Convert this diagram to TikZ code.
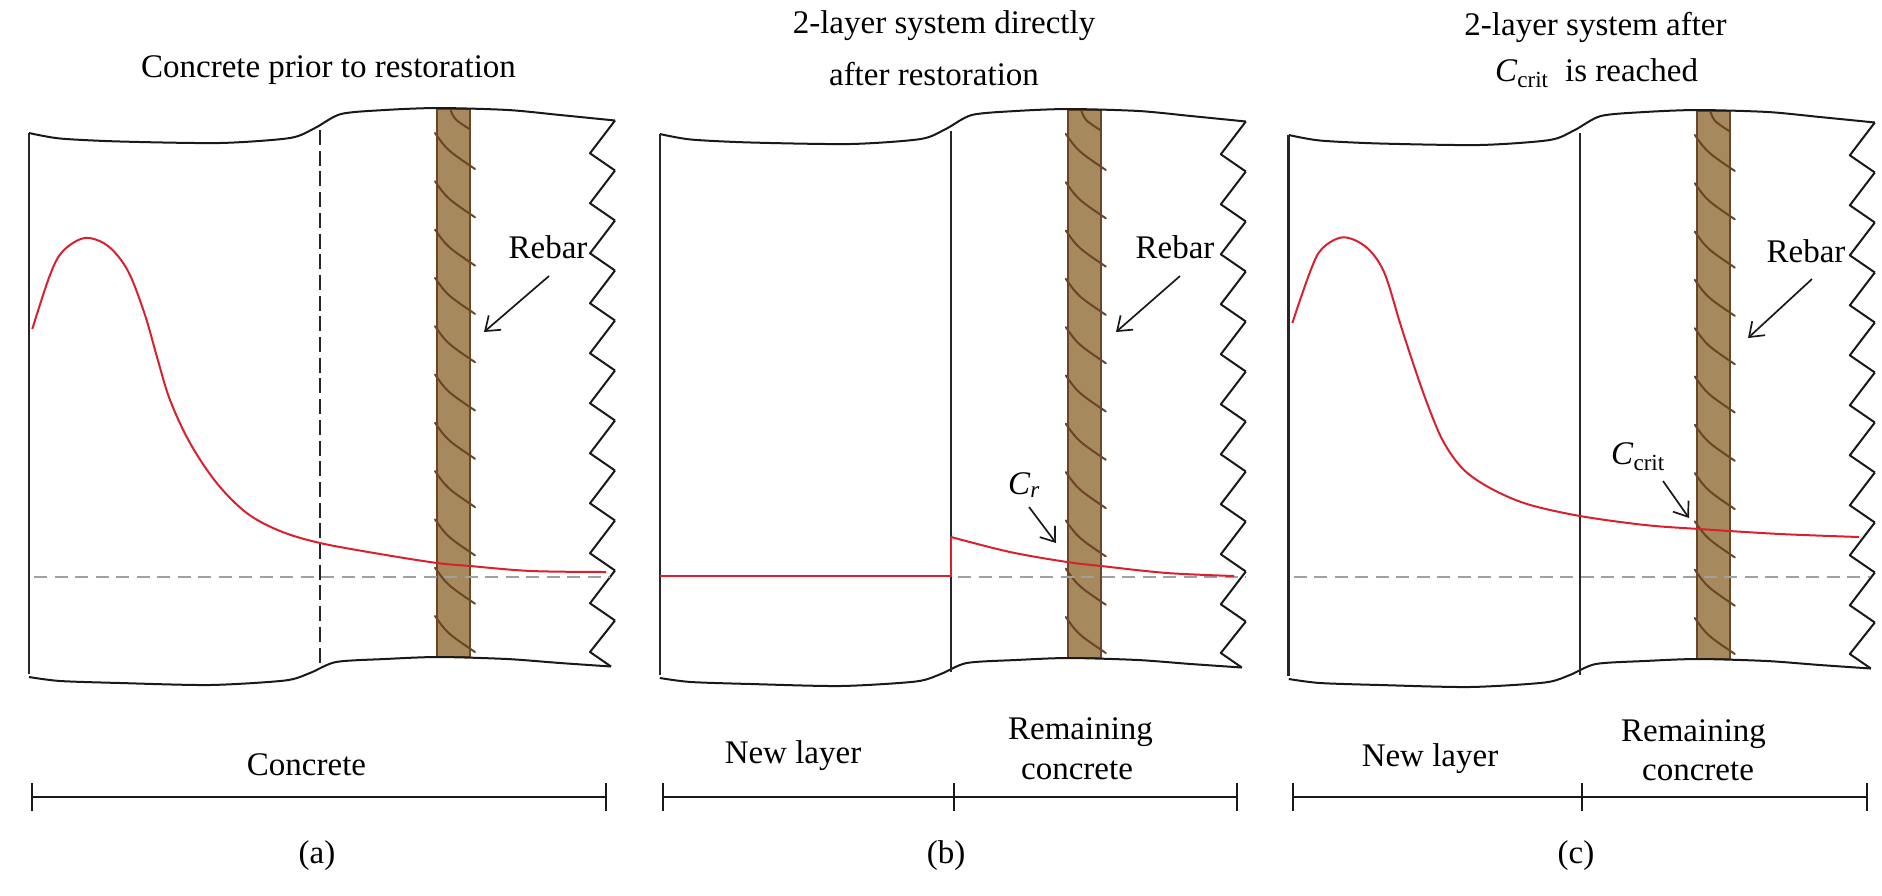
\documentclass[tikz,border=0pt]{standalone}
\usepackage{fontspec}
\setmainfont{Liberation Serif}
\usetikzlibrary{arrows.meta}
\definecolor{rebarfill}{HTML}{A68A5E}
\definecolor{rebaredge}{HTML}{6B4526}
\definecolor{curvered}{HTML}{D8202F}
\definecolor{levelgrey}{HTML}{A0A0A0}
\tikzset{txt/.style = {anchor = base, inner sep = 0, font = \fontsize{33}{38}\selectfont}}
\tikzset{outline/.style = {line width = 2, black!90, line join = round}}
\tikzset{wall/.style = {line width = 1.6, black!85}}
\tikzset{curve/.style = {line width = 2, curvered}}
\tikzset{level/.style = {line width = 2, levelgrey, dash pattern = on 13 off 7.5}}
\tikzset{spiral/.style = {line width = 2, rebaredge, line cap = round}}
\tikzset{bar/.style = {line width = 2, black!90}}
\tikzset{pointer/.style = {line width = 1.7, black!90, -{Straight Barb[length = 13, width = 19]}}}

\begin{document}
\begin{tikzpicture}[x=1pt, y=-1pt]
    \useasboundingbox (0, 0) rectangle (1882, 895);
    \foreach \dx/\dy in {0/0, 630.8/1, 1259.8/2}{
      \begin{scope}[shift={(\dx, \dy)}]
        \filldraw [fill=rebarfill, draw=rebaredge, line width=2] (436.7, 109) rectangle (470, 657);
        \foreach \k in {0,...,10}{
          \draw [spiral] (435, 133 + 48.3*\k) .. controls (447, 150 + 48.3*\k) .. (475, 169 + 48.3*\k);
        }
        \draw [spiral] (450.7, 110) .. controls (454, 119) .. (469.3, 129);
        \draw [outline] plot [smooth, tension=0.45] coordinates {(29, 133) (60, 138.5) (120, 141.5) (220, 143) (290, 138) (315, 128) (341, 114) (385, 110) (438, 108) (508, 110) (560, 115) (615, 120.5)};
        \draw [outline] plot [smooth, tension=0.45] coordinates {(29, 677) (60, 681) (120, 683) (210, 685) (285, 680.5) (310, 673) (336, 662) (385, 659) (438, 657) (507, 659) (560, 663) (611, 666.5)};
        \foreach \k in {0,...,9}{
          \draw [outline] (615, 120.5 + 50*\k) -- (590, 153.3 + 50*\k) -- (615, 170.5 + 50*\k);
        }
        \draw [outline] (615, 620.5) -- (590, 652) -- (611, 666.5);
      \end{scope}
    }
    % boundaries
    \draw [wall, line width=2, dash pattern=on 15 off 5.7] (320, 130) -- (320, 663);
    \draw [wall] (951, 131) -- (951, 672);
    \draw [wall] (1580, 133) -- (1580, 675);
    \draw [wall, line width=2.2] (29, 133) -- (29, 674);
    \draw [wall, line width=2.2] (659.8, 134) -- (659.8, 675);
    \draw [wall, line width=2.6] (1288.5, 135) -- (1288.5, 676);
    % chloride levels
    \draw [level] (34, 577) -- (610, 577);
    \draw [level] (958, 577) -- (1246, 577);
    \draw [level] (1293.5, 577) -- (1870, 577);
    % profiles
    \draw [curve] plot [smooth, tension=0.55] coordinates {(32.3, 329) (50, 275) (63, 251) (85, 238) (108, 246) (128, 271) (145, 315) (157, 357) (170, 400) (190, 443) (216.7, 483) (246.7, 513) (280, 531) (320, 543) (380, 554) (437, 563) (470, 566) (531, 571) (606, 572)};
    \draw [curve] (660, 576) -- (951, 576) -- (951, 537);
    \draw [curve] plot [smooth, tension=0.55] coordinates {(951, 537) (1010, 552) (1067, 562) (1101, 566) (1167, 573) (1234, 576)};
    \draw [curve] plot [smooth, tension=0.55] coordinates {(1292.3, 323) (1310, 272) (1321.7, 249) (1343, 237.3) (1366, 247) (1384, 272) (1400, 323) (1413, 363) (1427, 403) (1443, 441) (1463, 469) (1490, 488) (1527, 504) (1580, 516) (1645, 525) (1699, 529) (1780, 534) (1859, 537)};
    % titles
    \node [txt] (titlea) at (328.5, 77) {Concrete prior to restoration};
    \node [txt] (titleb) at (944, 33.5) {2-layer system directly};
    \node [txt] (titlebb) at (934, 85.5) {after restoration};
    \node [txt] (titlec) at (1595.5, 35) {2-layer system after};
    \node [txt] (titlecc) at (1596.5, 81) {\textit{C}\textsubscript{crit}\ \ is reached};
    % rebar labels
    \node [txt] (rebara) at (548, 258) {Rebar};
    \node [txt] (rebarb) at (1175, 258) {Rebar};
    \node [txt] (rebarc) at (1806, 262) {Rebar};
    \coordinate (rebarafrom) at (549, 276);
    \coordinate (rebarato) at (484, 332);
    \coordinate (rebarbfrom) at (1180, 276);
    \coordinate (rebarbto) at (1116, 332);
    \coordinate (rebarcfrom) at (1812, 279);
    \coordinate (rebarcto) at (1748, 338);
    \draw [pointer] (rebarafrom) -- (rebarato);
    \draw [pointer] (rebarbfrom) -- (rebarbto);
    \draw [pointer] (rebarcfrom) -- (rebarcto);
    % concentration labels
    \node [txt] (cr) at (1024, 494) {\textit{C}\textsubscript{\textit{r}}};
    \node [txt] (ccrit) at (1638, 464) {\textit{C}\textsubscript{crit}};
    \coordinate (crfrom) at (1029, 507);
    \coordinate (crto) at (1056, 543);
    \coordinate (ccritfrom) at (1663, 481);
    \coordinate (ccritto) at (1689, 518);
    \draw [pointer] (crfrom) -- (crto);
    \draw [pointer] (ccritfrom) -- (ccritto);
    % extents
    \coordinate (a1) at (32.4, 797);
    \coordinate (a2) at (606, 797);
    \coordinate (b1) at (662.5, 797);
    \coordinate (b2) at (954, 797);
    \coordinate (b3) at (1237, 797);
    \coordinate (c1) at (1292.5, 797);
    \coordinate (c2) at (1582, 797);
    \coordinate (c3) at (1867, 797);
    \draw [bar] (a1) -- (a2);
    \draw [bar] (b1) -- (b3);
    \draw [bar] (c1) -- (c3);
    \foreach \t in {a1, a2, b1, b2, b3, c1, c2, c3}{
      \draw [bar] ([yshift=-14]\t) -- ([yshift=14]\t);
    }
    \node [txt] (concretea) at (306.5, 775) {Concrete};
    \node [txt] (newb) at (793, 763) {New layer};
    \node [txt] (remb) at (1080.5, 739) {Remaining};
    \node [txt] (conb) at (1077, 779) {concrete};
    \node [txt] (newc) at (1430, 766) {New layer};
    \node [txt] (remc) at (1693.5, 741) {Remaining};
    \node [txt] (conc) at (1698, 780) {concrete};
    % panel letters
    \node [txt] (capa) at (317, 863) {(a)};
    \node [txt] (capb) at (946, 863) {(b)};
    \node [txt] (capc) at (1576, 863) {(c)};
  \end{tikzpicture}
\end{document}
